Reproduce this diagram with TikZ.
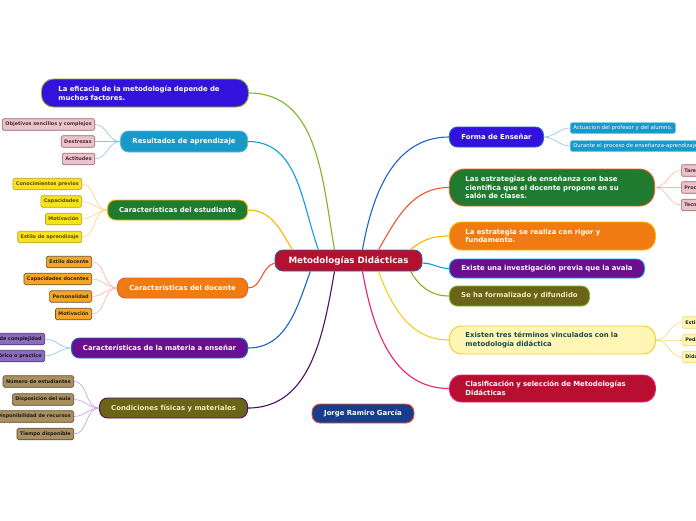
\documentclass[tikz,border=0pt]{standalone}
\usepackage{fontspec}
\setmainfont{DejaVu Sans}
\definecolor{cenF}{HTML}{B5102F}
\definecolor{cenB}{HTML}{3060A0}
\definecolor{blueV}{HTML}{3312DE}
\definecolor{cyanF}{HTML}{1899C9}
\definecolor{greenF}{HTML}{1E7B30}
\definecolor{orangeF}{HTML}{F07B12}
\definecolor{purpF}{HTML}{6A0F8E}
\definecolor{oliveF}{HTML}{6A6418}
\definecolor{paleY}{HTML}{FFF6B5}
\definecolor{crimF}{HTML}{B80E30}
\definecolor{navyF}{HTML}{1A3C8C}
\definecolor{lgreen}{HTML}{80B428}
\definecolor{lblue}{HTML}{0AA0E0}
\definecolor{amber}{HTML}{FFB400}
\definecolor{redor}{HTML}{F05A28}
\definecolor{mblue}{HTML}{1B63C8}
\definecolor{dpurp}{HTML}{4C0F62}
\definecolor{yell}{HTML}{F0D020}
\definecolor{pinkL}{HTML}{EC1E79}
\definecolor{pinkF}{HTML}{E8C4CB}
\definecolor{pinkB}{HTML}{A0606C}
\definecolor{pinkT}{HTML}{5A2535}
\definecolor{yelF}{HTML}{F7E21B}
\definecolor{yelB}{HTML}{B8A030}
\definecolor{yelT}{HTML}{5C4A00}
\definecolor{ambF}{HTML}{F6A623}
\definecolor{ambB}{HTML}{6B5530}
\definecolor{lavF}{HTML}{8A6BBE}
\definecolor{lavB}{HTML}{4A3575}
\definecolor{tanF}{HTML}{A8915F}
\definecolor{tanB}{HTML}{5A4630}
\definecolor{kblue}{HTML}{8AC6F0}
\definecolor{kyel}{HTML}{FFD27F}
\definecolor{ksal}{HTML}{FFB4A4}
\definecolor{kpur}{HTML}{C89AD8}
\definecolor{kyel2}{HTML}{F0D878}
\definecolor{tealT}{HTML}{1A4A45}
\definecolor{oliveT}{HTML}{F2EBB5}
\begin{document}
\begin{tikzpicture}[x=1pt,y=-1pt,
 main/.style={draw, line width=0.9pt, text=white, font=\fontsize{6.9}{8.8}\selectfont\bfseries, inner sep=0pt, align=center},
 lmain/.style={main, align=left, text width=174pt, inner xsep=16pt},
 kid/.style={draw, line width=0.6pt, rounded corners=1.5pt, font=\fontsize{4.9}{6}\selectfont\bfseries, inner xsep=3pt, inner ysep=0pt, minimum height=11.5pt},
 bkid/.style={kid, font=\fontsize{5.4}{6}\selectfont, fill=cyanF, draw=cyanF!70!white, text=white, minimum height=10.5pt},
 link/.style={line width=1.1pt},
 klink/.style={line width=0.6pt}]
\fill[white] (0,0) rectangle (696,520);
\useasboundingbox (0,0) rectangle (696,520);

% central
\node[main, fill=cenF, draw=cenB, minimum width=147pt, minimum height=21pt, rounded corners=8pt, font=\fontsize{8.7}{10}\selectfont\bfseries] (cen) at (348.5,260.5) {Metodologías Didácticas};

% left main nodes
\node[main, anchor=west, align=left, text width=173pt, inner xsep=17pt, minimum height=28pt, rounded corners=12pt, fill=blueV, draw=lgreen] (eff) at (41,93) {La eficacia de la metodología depende de\\muchos factores.};
\node[main, anchor=east, minimum width=127pt, minimum height=21pt, rounded corners=8pt, fill=cyanF, draw=cyanF!70!white] (res) at (248,141.5) {Resultados de aprendizaje};
\node[main, anchor=east, minimum width=140pt, minimum height=20pt, rounded corners=8pt, fill=greenF, draw=amber] (est) at (248,210) {Características del estudiante};
\node[main, anchor=east, minimum width=130pt, minimum height=20pt, rounded corners=8pt, fill=orangeF, draw=redor] (doc) at (248,288) {Características del docente};
\node[main, anchor=east, minimum width=176pt, minimum height=20pt, rounded corners=8pt, fill=purpF, draw=mblue] (mat) at (248,348) {Características de la materia a enseñar};
\node[main, anchor=east, minimum width=148pt, minimum height=20pt, rounded corners=8pt, fill=oliveF, draw=dpurp, text=oliveT] (con) at (248,408) {Condiciones físicas y materiales};

% right main nodes
\node[main, anchor=west, minimum width=94pt, minimum height=20pt, rounded corners=8pt, fill=blueV, draw=mblue] (for) at (449,137) {Forma de Enseñar};
\node[lmain, anchor=west, text width=173pt, minimum height=37pt, rounded corners=15pt, fill=greenF, draw=redor] (stra) at (449,187.5) {Las estrategias de enseñanza con base\\científica que el docente propone en su\\salón de clases.};
\node[lmain, anchor=west, minimum height=28pt, rounded corners=12pt, fill=orangeF, draw=amber] (rig) at (449,236) {La estrategia se realiza con rigor y\\fundamento.};
\node[main, anchor=west, minimum width=195pt, minimum height=19pt, rounded corners=8pt, fill=purpF, draw=lblue] (inv) at (449,268.5) {Existe una investigación previa que la avala};
\node[main, anchor=west, minimum width=140pt, minimum height=20pt, rounded corners=8pt, fill=oliveF, draw=lgreen, text=oliveT] (frm) at (449,296) {Se ha formalizado y difundido};
\node[lmain, anchor=west, minimum height=28pt, rounded corners=12pt, fill=paleY, draw=yell, text=tealT] (tres) at (449,340) {Existen tres términos vinculados con la\\metodología didáctica};
\node[lmain, anchor=west, minimum height=27pt, rounded corners=12pt, fill=crimF, draw=pinkL] (cla) at (449,388.5) {Clasificación y selección de Metodologías\\Didácticas};
\node[main, minimum width=102pt, minimum height=19pt, rounded corners=8pt, fill=navyF, draw=redor] (jor) at (363,413.5) {Jorge Ramiro García};

% left children
\begin{scope}[every node/.append style={anchor=east}]
\node[kid, fill=pinkF, draw=pinkB, text=pinkT] (r1) at (95,124.5) {Objetivos sencillos y complejos};
\node[kid, fill=pinkF, draw=pinkB, text=pinkT] (r2) at (95,141.5) {Destrezas};
\node[kid, fill=pinkF, draw=pinkB, text=pinkT] (r3) at (95,159) {Actitudes};
\node[kid, fill=yelF, draw=yelB, text=yelT] (e1) at (82,184) {Conocimientos previos};
\node[kid, fill=yelF, draw=yelB, text=yelT] (e2) at (82,201.5) {Capacidades};
\node[kid, fill=yelF, draw=yelB, text=yelT] (e3) at (82,219) {Motivación};
\node[kid, fill=yelF, draw=yelB, text=yelT] (e4) at (82,237) {Estilo de aprendizaje};
\node[kid, fill=ambF, draw=ambB, text=black!85] (d1) at (92,262) {Estilo docente};
\node[kid, fill=ambF, draw=ambB, text=black!85] (d2) at (92,279) {Capacidades docentes};
\node[kid, fill=ambF, draw=ambB, text=black!85] (d3) at (92,296.5) {Personalidad};
\node[kid, fill=ambF, draw=ambB, text=black!85] (d4) at (92,314) {Motivación};
\node[kid, fill=lavF, draw=lavB, text=black!90] (m1) at (45,339) {Grado de complejidad};
\node[kid, fill=lavF, draw=lavB, text=black!90] (m2) at (45,356) {Teórico o practico};
\node[kid, fill=tanF, draw=tanB, text=black!90] (c1) at (74,381.5) {Número de estudiantes};
\node[kid, fill=tanF, draw=tanB, text=black!90] (c2) at (74,399.5) {Disposición del aula};
\node[kid, fill=tanF, draw=tanB, text=black!90] (c3) at (74,416.5) {Disponibilidad de recursos};
\node[kid, fill=tanF, draw=tanB, text=black!90] (c4) at (74,434) {Tiempo disponible};
\end{scope}

% right children
\begin{scope}[every node/.append style={anchor=west}]
\node[bkid] (f1) at (570,128) {Actuacion del profesor y del alumno.};
\node[bkid] (f2) at (570,146) {Durante el proceso de enseñanza-aprendizaje};
\node[kid, fill=pinkF, draw=pinkB, text=pinkT] (s1) at (681,170.5) {Tareas};
\node[kid, fill=pinkF, draw=pinkB, text=pinkT] (s2) at (681,187.5) {Procedimientos};
\node[kid, fill=pinkF, draw=pinkB, text=pinkT] (s3) at (681,205) {Tecnicas};
\node[kid, fill=paleY, draw=kyel2, text=black!85] (t1) at (682,322.5) {Estilo};
\node[kid, fill=paleY, draw=kyel2, text=black!85] (t2) at (682,340) {Pedagogía};
\node[kid, fill=paleY, draw=kyel2, text=black!85] (t3) at (682,357) {Didáctica};
\end{scope}

% main connectors
\draw[link, lgreen] (cen.142) to[out=100,in=0] (eff.east);
\draw[link, lblue] (cen.160) to[out=110,in=0] (res.east);
\draw[link, amber] (cen.169) to[out=120,in=0] (est.east);
\draw[link, redor] (cen.182) to[out=195,in=0] (doc.east);
\draw[link, mblue] (cen.196) to[out=250,in=0] (mat.east);
\draw[link, dpurp] (cen.218) to[out=260,in=0] (con.east);
\draw[link, mblue] (cen.38) to[out=80,in=180] (for.west);
\draw[link, redor] (cen.20) to[out=60,in=180] (stra.west);
\draw[link, amber] (cen.10) to[out=40,in=180] (rig.west);
\draw[link, lblue] (cen.358) to[out=0,in=180] (inv.west);
\draw[link, lgreen] (cen.350) to[out=300,in=180] (frm.west);
\draw[link, yell] (cen.340) to[out=290,in=180] (tres.west);
\draw[link, pinkL] (cen.322) to[out=280,in=180] (cla.west);

% child connectors
\foreach \k in {r1,r2,r3} \draw[klink, kblue] (res.west) to[out=180,in=0] (\k.east);
\foreach \k in {e1,e2,e3,e4} \draw[klink, kyel] (est.west) to[out=180,in=0] (\k.east);
\foreach \k in {d1,d2,d3,d4} \draw[klink, ksal] (doc.west) to[out=180,in=0] (\k.east);
\foreach \k in {m1,m2} \draw[klink, kblue] (mat.west) to[out=180,in=0] (\k.east);
\foreach \k in {c1,c2,c3,c4} \draw[klink, kpur] (con.west) to[out=180,in=0] (\k.east);
\foreach \k in {f1,f2} \draw[klink, kblue] (for.east) to[out=0,in=180] (\k.west);
\foreach \k in {s1,s2,s3} \draw[klink, ksal] (stra.east) to[out=0,in=180] (\k.west);
\foreach \k in {t1,t2,t3} \draw[klink, kyel2] (tres.east) to[out=0,in=180] (\k.west);
\end{tikzpicture}
\end{document}
